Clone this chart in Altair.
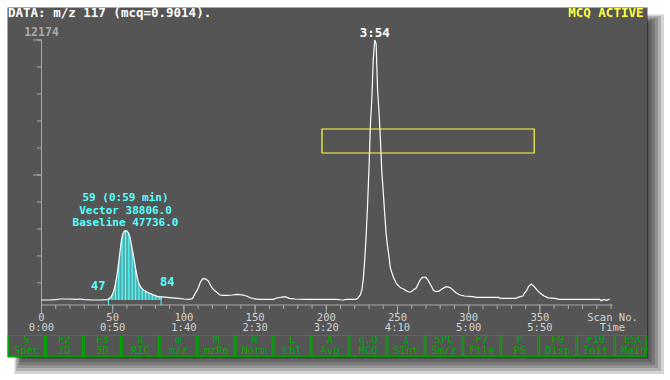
import altair as alt
import pandas as pd

# ---------------- data ----------------
SCANS = [0, 5, 10, 13, 20, 24, 27, 30, 36, 42, 46,
         47, 48, 49, 50, 51, 52, 53, 54, 55, 56, 57, 58, 59, 60, 61, 62, 63, 64, 65,
         66, 67, 68, 69, 70, 71, 72, 73, 74, 75, 76, 77, 78, 79, 80, 81, 82, 83, 84,
         85, 88, 92, 96, 100, 104, 106, 107, 108, 109, 110, 111, 112, 113, 114, 115,
         116, 117, 118, 119, 120, 121, 122, 123, 125, 127, 130, 134, 137, 140, 144,
         147, 150, 153, 163, 165, 168, 171, 174, 178, 186, 207, 210, 212, 214, 220,
         221, 222, 223, 224, 225, 226, 227, 228, 229, 230, 231, 232, 233, 234, 235,
         236, 237, 238, 239, 240, 241, 242, 243, 244, 245, 246, 247, 248, 249, 250,
         251, 252, 253, 254, 255, 256, 257, 258, 259, 260, 261, 262, 263, 264, 265,
         266, 267, 268, 269, 270, 271, 272,
         273, 274, 275, 276, 279, 281, 284, 287, 289, 291, 294, 297, 303, 305, 321,
         322, 333, 336, 338, 339, 341, 342, 344, 346, 349, 351, 353, 356, 361, 363,
         392, 393, 395, 397, 399]

INTENSITY = [230, 230, 245, 276, 276, 262, 276, 245, 230, 230, 250,
             270, 320, 383, 500, 700, 1000, 1350, 1850, 2374, 2900, 3250, 3380, 3415, 3400,
             3330, 3139, 2820, 2450, 2100, 1720, 1350, 1060, 900, 800, 730, 680, 640, 600,
             570, 540, 510, 480, 455, 430, 410, 395, 383, 375,
             370, 352, 325, 300, 276, 262, 300, 420, 540, 650, 766, 950, 1100, 1180, 1225,
             1200, 1160, 1118, 1000, 873, 780, 700, 640, 590, 470, 444, 444, 460, 490, 475,
             413, 322, 280, 260, 260, 322, 350, 383, 306, 276, 260, 260, 240, 230, 260, 260,
             270, 300, 380, 480, 700, 1200, 2067, 3200, 4600, 6300, 8300, 9500, 11300, 12174,
             12000, 9900, 8900, 7600, 6100, 5200, 4200, 3300, 2700, 2250, 1700, 1500, 1300,
             1160, 1020, 930, 870, 800, 770, 750, 700, 660, 620, 600, 597, 620, 689, 730,
             766, 900, 1030, 1149, 1240, 1271, 1271, 1271, 1180, 1072,
             950, 840, 700, 640, 628, 720, 842, 797, 689, 567, 459, 413, 383, 352, 352,
             306, 306, 383, 413, 520, 700, 850, 965, 842, 613, 505, 413, 330, 306, 260,
             260, 199, 260, 214, 276]

assert len(SCANS) == len(INTENSITY)

AREA_FROM, AREA_TO = 47, 84
AREA_BASE = 230
PEAK_SCAN, PEAK_VALUE = 59, 3415
PEAK_LINES = ["59 (0:59 min)", "Vector 38806.0", "Baseline 47736.0"]
APEX_SCAN, APEX_VALUE, APEX_TEXT = 234, 12174, "3:54"
Y_MAX = 12174
X_MAX = 401

X_MINOR = [0, 10, 20, 30, 40, 50, 60, 70, 80, 90, 100, 110, 120, 130, 140, 150, 160,
           170, 180, 190, 200, 210, 220, 230, 240, 250, 260, 270, 280, 290, 300, 310,
           320, 330, 340, 350, 360, 370, 380, 390, 400]
X_MAJOR = [0, 50, 100, 150, 200, 250, 300, 350]
X_LABEL_POS = [0, 50, 100, 150, 200, 250, 300, 350, 401]
X_SCAN_LABELS = ["0", "50", "100", "150", "200", "250", "300", "350", "Scan No."]
X_TIME_LABELS = ["0:00", "0:50", "1:40", "2:30", "3:20", "4:10", "5:00", "5:50", "Time"]
Y_TICKS = [12174, 10934, 9694, 8454, 7214, 5974, 4734, 3494, 2254, 1014]
Y_LONG = [12174, 5974]

BOX_SCANS = [197, 346]
BOX_VALUES = [6983, 8085]

KEYS = ["S", "F2", "F3", "R", "m", "M", "N", "L", "A", "q,Q", "I", "SPC", "F7", "P",
        "F9", "F10", "ESC"]
NAMES = ["Spec", "2D", "3D", "RIC", "m/z", "mzRg", "Norm", "Lbl", "Avg", "MCQ", "SInt",
         "Sm/z", "File", "PS", "Disp", "Init", "Main"]

TITLE = "DATA: m/z 117 (mcq=0.9014)."
STATUS = "MCQ ACTIVE"

# ---------------- style ----------------
FONT = "DejaVu Sans Mono"
BG = "#555555"
WHITE = "#ffffff"
CYAN = "#55ffff"
YELLOW = "#ffff44"
GREEN = "#00a800"
AXIS = "#aaaaaa"
LABEL = "#d2d2d2"

xs = alt.Scale(domain=[0, X_MAX], range=[34.5, 605.5], nice=False, zero=False)
ys = alt.Scale(domain=[0, Y_MAX], range=[298, 33], nice=False, zero=False)


def X(f):
    return alt.X(f"{f}:Q", scale=xs, axis=None)


def Y(f):
    return alt.Y(f"{f}:Q", scale=ys, axis=None)


trace = pd.DataFrame({"scan": SCANS, "value": INTENSITY})
area = trace[(trace.scan >= AREA_FROM) & (trace.scan <= AREA_TO)].copy()
area["base"] = AREA_BASE
edges = area[area.scan.isin([AREA_FROM, AREA_TO])].copy()
edges["base"] = 0

layers = []

# drop shadow (outside the window)
sh = []
for w in [17, 14, 11, 8, 5, 2]:
    sh.append({"x1": 640, "x2": 640 + w, "y1": 16 - w / 2, "y2": 350 + w})
    sh.append({"x1": 16 - w / 2, "x2": 640, "y1": 350, "y2": 350 + w})
layers.append(
    alt.Chart(pd.DataFrame(sh)).mark_rect(color="#000000", opacity=0.17).encode(
        x=alt.X("x1:Q", scale=None), x2="x2:Q",
        y=alt.Y("y1:Q", scale=None), y2="y2:Q")
)

# axes
layers.append(
    alt.Chart(pd.DataFrame({"s0": [0], "s1": [X_MAX], "v": [0]})).mark_rule(color=AXIS)
    .encode(x=X("s0"), x2="s1", y=Y("v"))
)
layers.append(
    alt.Chart(pd.DataFrame({"s": [0], "v0": [0], "v1": [Y_MAX]})).mark_rule(color=AXIS)
    .encode(x=X("s"), y=Y("v0"), y2="v1")
)
layers.append(
    alt.Chart(pd.DataFrame({"scan": X_MINOR})).mark_rule(color=AXIS)
    .encode(x=X("scan"), y=alt.value(298), y2=alt.value(302))
)
layers.append(
    alt.Chart(pd.DataFrame({"scan": X_MAJOR})).mark_rule(color=AXIS)
    .encode(x=X("scan"), y=alt.value(298), y2=alt.value(306))
)
layers.append(
    alt.Chart(pd.DataFrame({"v": Y_TICKS})).mark_rule(color=AXIS)
    .encode(y=Y("v"), x=alt.value(30), x2=alt.value(34.5))
)
layers.append(
    alt.Chart(pd.DataFrame({"v": Y_LONG})).mark_rule(color=AXIS)
    .encode(y=Y("v"), x=alt.value(26), x2=alt.value(34.5))
)
labels = pd.DataFrame({"scan": X_LABEL_POS, "n": X_SCAN_LABELS, "t": X_TIME_LABELS})
layers.append(
    alt.Chart(labels).mark_text(font=FONT, fontSize=10.5, color=LABEL, baseline="middle")
    .encode(x=X("scan"), y=alt.value(310.5), text="n:N")
)
layers.append(
    alt.Chart(labels).mark_text(font=FONT, fontSize=10.5, color=LABEL, baseline="middle")
    .encode(x=X("scan"), y=alt.value(321), text="t:N")
)
layers.append(
    alt.Chart(pd.DataFrame({"s": [0], "v": [Y_MAX], "t": [str(Y_MAX)]}))
    .mark_text(font=FONT, fontSize=11.5, fontWeight="bold", color=AXIS, baseline="middle", dy=-7)
    .encode(x=X("s"), y=Y("v"), text="t:N")
)

# integrated peak
layers.append(
    alt.Chart(area).mark_rule(color=CYAN, strokeWidth=1)
    .encode(x=X("scan"), y=Y("value"), y2="base")
)
layers.append(
    alt.Chart(edges).mark_rule(color=CYAN, strokeWidth=1)
    .encode(x=X("scan"), y=Y("value"), y2="base")
)

# trace
layers.append(
    alt.Chart(trace).mark_line(color=WHITE, strokeWidth=1.2)
    .encode(x=X("scan"), y=Y("value"))
)

# yellow box
layers.append(
    alt.Chart(pd.DataFrame({"s0": [BOX_SCANS[0]], "s1": [BOX_SCANS[1]],
                            "v0": [BOX_VALUES[0]], "v1": [BOX_VALUES[1]]}))
    .mark_rect(fillOpacity=0, stroke=YELLOW, strokeWidth=1.2)
    .encode(x=X("s0"), x2="s1", y=Y("v0"), y2="v1")
)

# annotations
layers.append(
    alt.Chart(pd.DataFrame({"s": [APEX_SCAN], "v": [APEX_VALUE], "t": [APEX_TEXT]}))
    .mark_text(font=FONT, fontSize=12.5, fontWeight="bold", color=WHITE, baseline="middle", dy=-7)
    .encode(x=X("s"), y=Y("v"), text="t:N")
)
for k, line in enumerate(PEAK_LINES):
    layers.append(
        alt.Chart(pd.DataFrame({"s": [PEAK_SCAN], "v": [PEAK_VALUE], "t": [line]}))
        .mark_text(font=FONT, fontSize=11, fontWeight="bold", color=CYAN, baseline="middle",
                   dy=-7.5 - 12.5 * (len(PEAK_LINES) - 1 - k))
        .encode(x=X("s"), y=Y("v"), text="t:N")
    )
layers.append(
    alt.Chart(pd.DataFrame({"s": [AREA_FROM], "v": [887], "t": [str(AREA_FROM)]}))
    .mark_text(font=FONT, fontSize=12, fontWeight="bold", color=CYAN, baseline="middle",
               align="right", dx=-3)
    .encode(x=X("s"), y=Y("v"), text="t:N")
)
layers.append(
    alt.Chart(pd.DataFrame({"s": [AREA_TO], "v": [1034], "t": [str(AREA_TO)]}))
    .mark_text(font=FONT, fontSize=12, fontWeight="bold", color=CYAN, baseline="middle",
               align="left", dx=-1)
    .encode(x=X("s"), y=Y("v"), text="t:N")
)

# title bar
layers.append(
    alt.Chart(pd.DataFrame({"t": [TITLE]}))
    .mark_text(font=FONT, fontSize=12.5, fontWeight="bold", color=WHITE, align="left",
               baseline="middle")
    .encode(x=alt.value(1), y=alt.value(6), text="t:N")
)
layers.append(
    alt.Chart(pd.DataFrame({"t": [STATUS]}))
    .mark_text(font=FONT, fontSize=12.5, fontWeight="bold", color=YELLOW, align="right",
               baseline="middle")
    .encode(x=alt.value(636.5), y=alt.value(6), text="t:N")
)

# function-key buttons
btn = pd.DataFrame({"key": KEYS, "name": NAMES})
btn["px"] = [1.3 + 37.95 * i for i in range(len(KEYS))]
btn["px2"] = [min(p + 36.2, 639.3) for p in btn["px"]]
btn["cx"] = btn["px"] + 18.1
layers.append(
    alt.Chart(btn).mark_rect(fillOpacity=0, stroke=GREEN, strokeWidth=1.2, clip=True)
    .encode(x=alt.X("px:Q", scale=None), x2="px2:Q", y=alt.value(328.5), y2=alt.value(349.5))
)
layers.append(
    alt.Chart(btn).mark_text(font=FONT, fontSize=10.5, color=GREEN, baseline="middle", clip=True)
    .encode(x=alt.X("cx:Q", scale=None), y=alt.value(333), text="key:N")
)
layers.append(
    alt.Chart(btn).mark_text(font=FONT, fontSize=10.5, color=GREEN, baseline="middle", clip=True)
    .encode(x=alt.X("cx:Q", scale=None), y=alt.value(343.5), text="name:N")
)

chart = (
    alt.layer(*layers)
    .resolve_scale(x="independent", y="independent")
    .properties(width=640, height=350, autosize="none",
                padding={"left": 7, "top": 7, "right": 23, "bottom": 23},
                background="#ffffff")
    .configure_view(fill=BG, strokeOpacity=0)
)

chart.save("out.html", embed_options={"renderer": "svg", "actions": False})
